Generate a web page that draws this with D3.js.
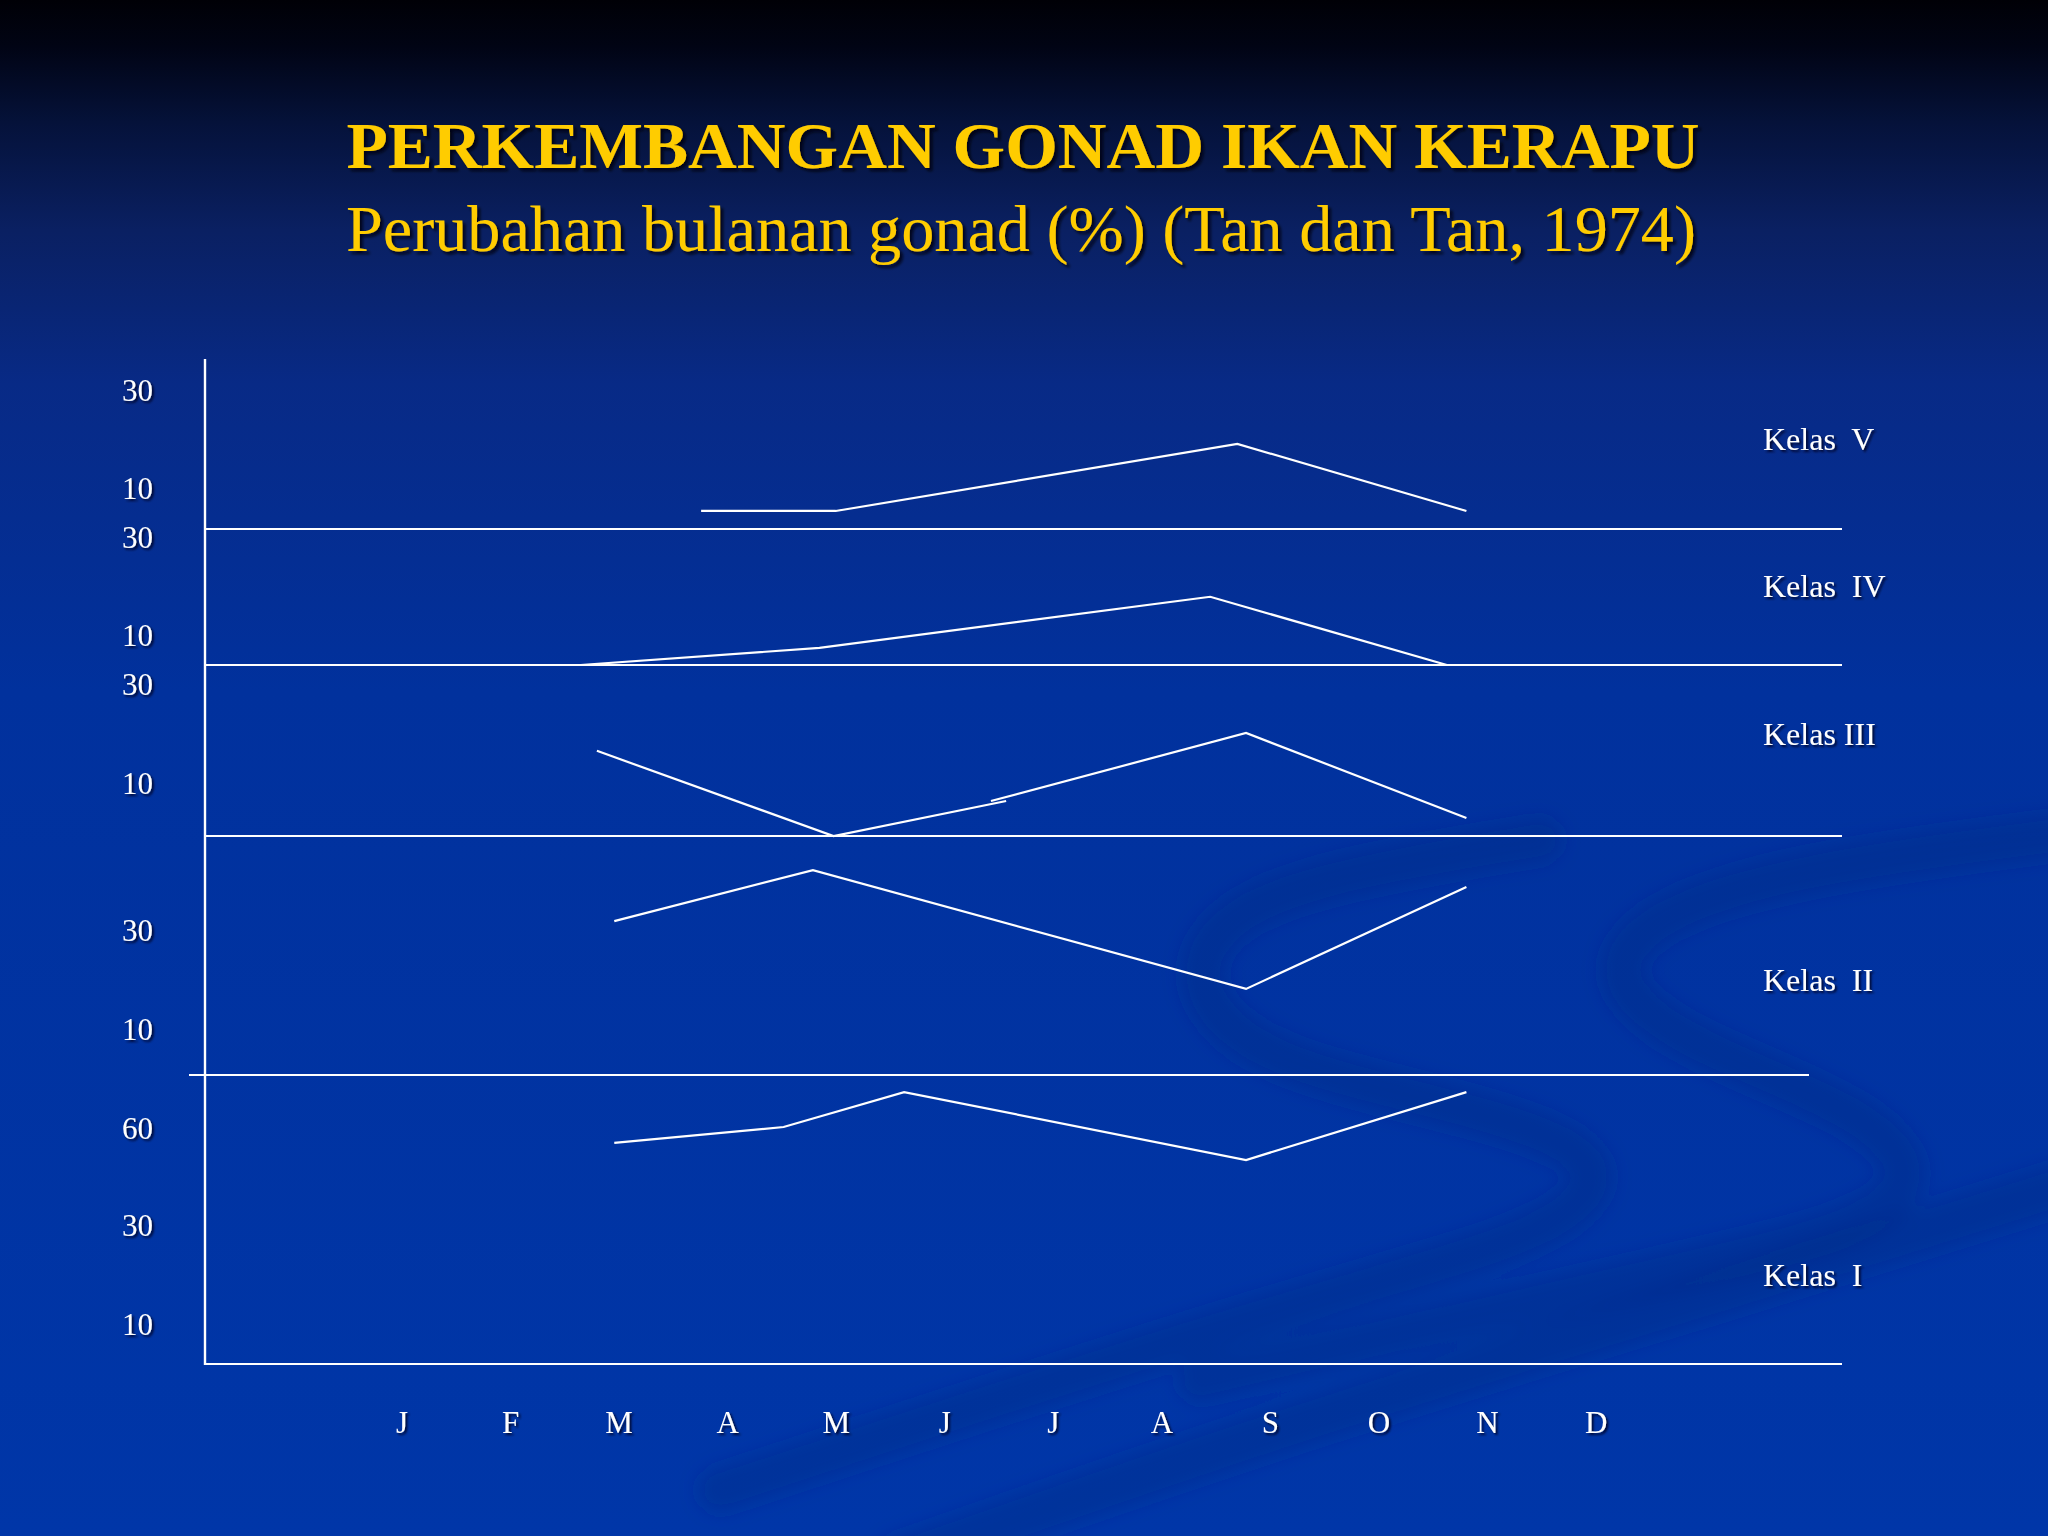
<!DOCTYPE html>
<html>
<head>
<meta charset="utf-8">
<script src="https://cdn.jsdelivr.net/npm/d3@7"></script>
<style>
html,body{margin:0;padding:0;background:#0033a0;overflow:hidden}
svg{display:block}
</style>
</head>
<body>
<script>
// ---------------- DATA ----------------
const titleText = "PERKEMBANGAN GONAD IKAN KERAPU";
const subtitleText = "Perubahan bulanan gonad (%) (Tan dan Tan, 1974)";
const months = ["J","F","M","A","M","J","J","A","S","O","N","D"];
const classLabels = ["Kelas  V", "Kelas  IV", "Kelas III", "Kelas  II", "Kelas  I"];
const classLabelValue = 20;

// tick labels per panel (top to bottom)
const ticksV = [30, 10];
const ticksIV = [30, 10];
const ticksIII = [30, 10];
const ticksII = [30, 10];
const ticksI = [60, 30, 10];

// series: x = month position (0 = January), y = gonad %
const kelasV_x = [2.76, 4.00, 7.70, 9.81];
const kelasV_y = [4.4, 4.4, 19.0, 4.4];
const kelasIV_x = [1.65, 3.85, 7.45, 9.63];
const kelasIV_y = [0, 5.7, 17.8, 0];
const kelasIIIa_x = [1.80, 3.98, 5.57];
const kelasIIIa_y = [16.5, 0, 6.6];
const kelasIIIb_x = [5.43, 7.78, 9.81];
const kelasIIIb_y = [6.6, 20.1, 3.4];
const kelasII_x = [1.96, 3.79, 7.78, 9.81];
const kelasII_y = [31.8, 42.1, 18.1, 38.7];
const kelasI_x = [1.96, 3.52, 4.63, 7.78, 9.81];
const kelasI_y = [55.4, 60.3, 71.1, 50.1, 71.1];

// ---------------- LAYOUT ----------------
const W = 2048, H = 1536;
const axisX = 205, axisTop = 359, lineRight = 1842;
const serif = "'Liberation Serif','Times New Roman',serif";

const svg = d3.select("body").append("svg").attr("width", W).attr("height", H);
const defs = svg.append("defs");

const grad = defs.append("linearGradient").attr("id","bg").attr("x1",0).attr("y1",0).attr("x2",0).attr("y2",1);
[[0,"#000006"],[0.03,"#010414"],[0.08,"#05123a"],[0.15,"#0a2062"],[0.25,"#082a86"],[0.45,"#01319d"],[1,"#0036a8"]]
  .forEach(([o,c]) => grad.append("stop").attr("offset",o).attr("stop-color",c));

const blur = defs.append("filter").attr("id","blur").attr("x","-20%").attr("y","-20%").attr("width","140%").attr("height","140%");
blur.append("feGaussianBlur").attr("stdDeviation",9);

const shTitle = defs.append("filter").attr("id","shTitle").attr("x","-5%").attr("y","-20%").attr("width","110%").attr("height","150%");
shTitle.append("feDropShadow").attr("dx",3).attr("dy",3).attr("stdDeviation",1.5).attr("flood-color","#000010").attr("flood-opacity",0.85);
const shText = defs.append("filter").attr("id","shText").attr("x","-10%").attr("y","-30%").attr("width","130%").attr("height","170%");
shText.append("feDropShadow").attr("dx",2).attr("dy",2).attr("stdDeviation",1).attr("flood-color","#000020").attr("flood-opacity",0.85);

svg.append("rect").attr("width",W).attr("height",H).attr("fill","url(#bg)");

// decorative swooshes
const deco = svg.append("g").attr("filter","url(#blur)").attr("fill","none").attr("stroke","#00287f").attr("stroke-opacity",0.32).attr("stroke-linecap","round");
const curve = d3.line().curve(d3.curveBasis);
deco.append("path").attr("stroke-width",44).attr("d", curve([[2100,830],[1780,870],[1630,925],[1610,990],[1700,1050],[1860,1110],[1925,1175],[1860,1230],[1650,1275],[1200,1380]]));
deco.append("path").attr("stroke-width",44).attr("d", curve([[1540,840],[1300,880],[1205,930],[1195,1000],[1270,1065],[1480,1110],[1620,1160],[1560,1235],[1300,1300],[720,1490]]));
deco.append("path").attr("stroke-width",48).attr("d", curve([[2100,1175],[1700,1300],[1300,1420],[900,1560]]));

// title
svg.append("text").attr("x",1023).attr("y",168).attr("text-anchor","middle")
  .attr("font-family",serif).attr("font-weight","bold").attr("font-size",66)
  .attr("textLength",1353).attr("lengthAdjust","spacingAndGlyphs")
  .attr("fill","#FFCC00").attr("filter","url(#shTitle)").text(titleText);
svg.append("text").attr("x",1021).attr("y",251).attr("text-anchor","middle")
  .attr("font-family",serif).attr("font-size",66)
  .attr("textLength",1350).attr("lengthAdjust","spacingAndGlyphs")
  .attr("fill","#FFCC00").attr("filter","url(#shTitle)").text(subtitleText);

// scales
const xLin = d3.scaleLinear().domain([0, 11]).range([401.5, 1595.6]);
const xPoint = d3.scalePoint().domain(d3.range(months.length)).range([401.5, 1595.6]);

const panels = [
  { ticks: ticksV,   scale: d3.scaleLinear().domain([0,10,30]).range([529,488,390]),   x1: axisX, x2: lineRight,
    series: [[kelasV_x, kelasV_y]] },
  { ticks: ticksIV,  scale: d3.scaleLinear().domain([0,10,30]).range([665,635,537]),   x1: axisX, x2: lineRight,
    series: [[kelasIV_x, kelasIV_y]] },
  { ticks: ticksIII, scale: d3.scaleLinear().domain([0,10,30]).range([836,783,684]),   x1: axisX, x2: lineRight,
    series: [[kelasIIIa_x, kelasIIIa_y], [kelasIIIb_x, kelasIIIb_y]] },
  { ticks: ticksII,  scale: d3.scaleLinear().domain([0,10,30]).range([1075,1029,930]), x1: 189, x2: 1809,
    series: [[kelasII_x, kelasII_y]] },
  { ticks: ticksI,   scale: d3.scaleLinear().domain([0,10,30,60]).range([1364,1324,1225,1128]), x1: axisX, x2: lineRight,
    series: [[kelasI_x, kelasI_y]] }
];

const chart = svg.append("g");

// vertical axis
chart.append("line").attr("x1",axisX).attr("x2",axisX).attr("y1",axisTop).attr("y2",1365)
  .attr("stroke","#fff").attr("stroke-width",2.4);

panels.forEach((p, i) => {
  // baseline
  chart.append("line").attr("x1",p.x1).attr("x2",p.x2)
    .attr("y1",p.scale(0)).attr("y2",p.scale(0))
    .attr("stroke","#fff").attr("stroke-width",2.2);

  // tick labels
  const ax = chart.append("g").attr("transform",`translate(${axisX},0)`)
    .call(d3.axisLeft(p.scale).tickValues(p.ticks).tickSize(0).tickPadding(52).tickFormat(d3.format("d")));
  ax.select(".domain").remove();
  ax.selectAll("text").attr("font-family",serif).attr("font-size",31).attr("fill","#fff")
    .attr("dy","0.35em").attr("filter","url(#shText)");

  // series lines
  const line = d3.line().x(d => xLin(d[0])).y(d => p.scale(d[1]));
  p.series.forEach(([xs, ys]) => {
    chart.append("path").datum(d3.zip(xs, ys)).attr("d", line)
      .attr("fill","none").attr("stroke","#fff").attr("stroke-width",2.2).attr("stroke-linejoin","miter");
  });

  // class label
  chart.append("text").attr("x",1763).attr("y",p.scale(classLabelValue)).attr("dy","0.35em")
    .attr("font-family",serif).attr("font-size",32).attr("fill","#fff")
    .attr("filter","url(#shText)").style("white-space","pre").text(classLabels[i]);
});

// month axis
const mx = chart.append("g").attr("transform","translate(0,1364)")
  .call(d3.axisBottom(xPoint).tickSize(0).tickPadding(47).tickFormat(i => months[i]));
mx.select(".domain").remove();
mx.selectAll("text").attr("font-family",serif).attr("font-size",31).attr("fill","#fff")
  .attr("dy","0").attr("filter","url(#shText)");
mx.selectAll("text").attr("y", 1433 - 1364);
</script>
</body>
</html>
